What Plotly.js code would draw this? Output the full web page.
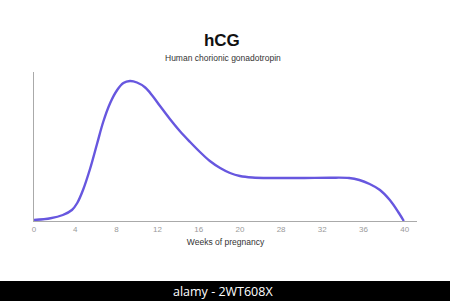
<!DOCTYPE html>
<html><head><meta charset="utf-8">
<script src="https://cdn.plot.ly/plotly-3.0.1.min.js"></script>
<style>html,body{margin:0;padding:0;background:#fff;}#chart{width:450px;height:301px;}</style>
</head><body><div id="chart"></div>
<script>
// tick labels (evenly spaced, as in the original)
const tickLabels = ['0','4','8','12','16','20','28','32','36','40'];
const tickPos = [0,1,2,3,4,5,6,7,8,9];
// curve, x in tick-position units, y = relative hCG level
const curveX = [0, 0.4, 0.7, 0.92, 1.05, 1.19, 1.36, 1.53, 1.68, 1.85, 2.02, 2.17, 2.33, 2.5, 2.7, 2.88, 3.06, 3.3, 3.54, 3.79, 4.03, 4.27, 4.52, 4.76, 5.0, 5.3, 5.8, 6.5, 7.2, 7.65, 7.9, 8.15, 8.4, 8.64, 8.86, 8.98];
const curveY = [1, 2.7, 6, 11, 18, 31, 52, 77, 99, 118, 131, 138, 140, 138.5, 133.5, 125, 115, 102, 90, 79, 69, 60, 53, 48, 45, 43.5, 43, 43, 43.3, 43, 41, 37, 31, 21, 8, 0];

const traces = [{
  x: curveX, y: curveY, type: 'scatter', mode: 'lines',
  line: {color: '#6757df', width: 2.4, shape: 'spline', smoothing: 1},
  hoverinfo: 'skip', cliponaxis: false
}];

const layout = {
  width: 450, height: 301,
  margin: {l: 34, r: 33, t: 72, b: 80},
  paper_bgcolor: '#fff', plot_bgcolor: '#fff',
  showlegend: false,
  font: {family: 'Liberation Sans, Arial, sans-serif'},
  title: {text: '<b>hCG</b>', x: 0.493, xanchor: 'center', y: 0.867, yanchor: 'middle',
          font: {size: 17, color: '#111', family: 'Liberation Sans, Arial, sans-serif'}},
  xaxis: {
    range: [0, 9.3], showgrid: false, zeroline: false,
    showline: true, linecolor: '#aaaaaa', linewidth: 1,
    tickmode: 'array', tickvals: tickPos, ticktext: tickLabels,
    ticks: '', tickfont: {size: 8, color: '#9a9a9a'},
    title: {text: 'Weeks of pregnancy', font: {size: 8.5, color: '#333'}, standoff: 6}
  },
  yaxis: {
    range: [0, 149], showgrid: false, zeroline: false,
    showline: true, linecolor: '#aaaaaa', linewidth: 1,
    showticklabels: false, ticks: ''
  },
  shapes: [{type: 'rect', xref: 'paper', yref: 'paper', x0: -0.1, x1: 1.2,
            y0: -80/149, y1: -60/149, fillcolor: '#000', line: {width: 0}}],
  annotations: [
    {text: 'Human chorionic gonadotropin', xref: 'paper', yref: 'paper',
     x: 0.493, y: 1 + 14/149, xanchor: 'center', yanchor: 'middle', showarrow: false,
     font: {size: 8.5, color: '#333'}},
    {text: 'alamy - 2WT608X', xref: 'paper', yref: 'paper',
     x: 0.493, y: -70/149, xanchor: 'center', yanchor: 'middle', showarrow: false,
     font: {size: 12.5, color: '#fff', family: 'Open Sans, Noto Sans, sans-serif'}}
  ]
};

Plotly.newPlot('chart', traces, layout, {displayModeBar: false, staticPlot: true});
</script>
</body></html>
